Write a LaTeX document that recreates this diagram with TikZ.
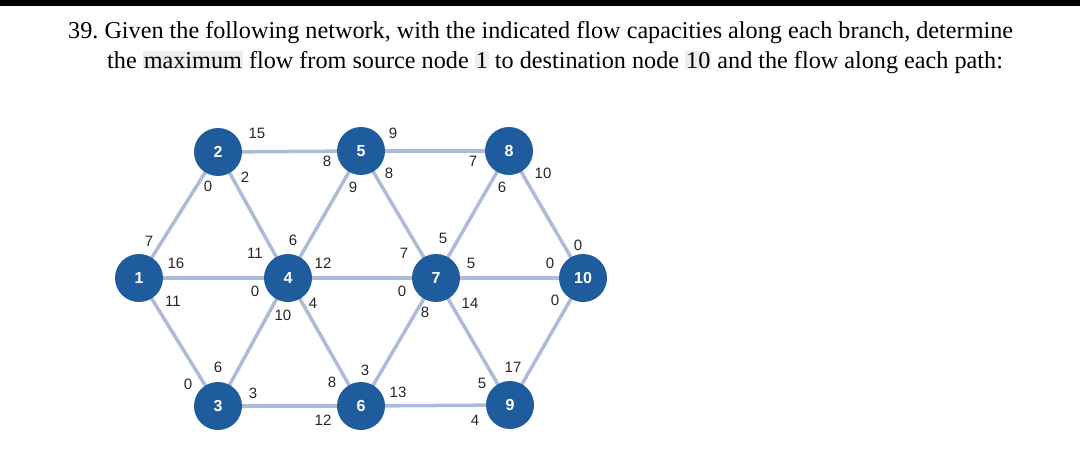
\documentclass[tikz,border=0pt]{standalone}
\usepackage{fontspec}
\setmainfont{Liberation Serif}
\newfontfamily\lsans{Liberation Sans}
\definecolor{nodeblue}{HTML}{1F5C9E}
\definecolor{edgeblue}{HTML}{AEBBD6}
\begin{document}
\begin{tikzpicture}[x=1pt,y=-1pt,
  nd/.style={circle,fill=nodeblue,draw=none,minimum size=48pt,inner sep=0pt,text=white,font=\lsans\bfseries\fontsize{16}{16}\selectfont},
  ed/.style={draw=edgeblue,line width=3.5pt},
  lb/.style={font=\lsans\fontsize{15}{15}\selectfont,text=black!85,inner sep=0pt}]
\useasboundingbox (0,0) rectangle (1080,455);
\fill[black] (0,0) rectangle (1080,6);
\setlength{\fboxsep}{1pt}
\node[anchor=base west,inner sep=0pt,font=\fontsize{24.2}{28}\selectfont] (h1) at (68,38) {39.\ Given the following network, with the indicated flow capacities along each branch, determine};
\node[anchor=base west,inner sep=0pt,font=\fontsize{24.2}{28}\selectfont] (h2) at (107,68) {the \colorbox{gray!13}{maximum} flow from source node \colorbox{gray!13}{1} to destination node \colorbox{gray!13}{10} and the flow along each path:};
\coordinate (p1) at (139,278); \coordinate (p2) at (218,152); \coordinate (p3) at (218,406);
\coordinate (p4) at (288,278); \coordinate (p5) at (361,151); \coordinate (p6) at (361,406);
\coordinate (p7) at (436,278); \coordinate (p8) at (509,151); \coordinate (p9) at (510,405);
\coordinate (p10) at (583,278);
\foreach \a/\b in {1/2,1/4,1/3,2/5,2/4,3/4,3/6,4/5,4/7,4/6,5/7,5/8,6/7,6/9,7/8,7/10,7/9,8/10,9/10}
  \draw[ed] (p\a) -- (p\b);
\foreach \i in {1,...,10} \node[nd] (n\i) at (p\i) {\i};
\foreach \x/\y/\t [count=\k] in {257/133/15,208/186/0,245/177/2,327/161/8,353/187/9,389/173/8,393/133/9,473/161/7,543/173/10,502/187/6,
 149/241/7,176/263/16,173/301/11,255/253/11,293/240/6,323/263/12,255/291/0,313/303/4,283/315/10,
 404/253/7,402/291/0,425/312/8,443/238/5,471/263/5,470/303/14,578/245/0,550/263/0,555/300/0,
 218/367/6,188/384/0,253/393/3,332/382/8,365/370/3,398/392/13,323/420/12,482/383/5,513/367/17,475/420/4}
  \node[lb] (l\k) at (\x,\y) {\t};
\end{tikzpicture}
\end{document}
